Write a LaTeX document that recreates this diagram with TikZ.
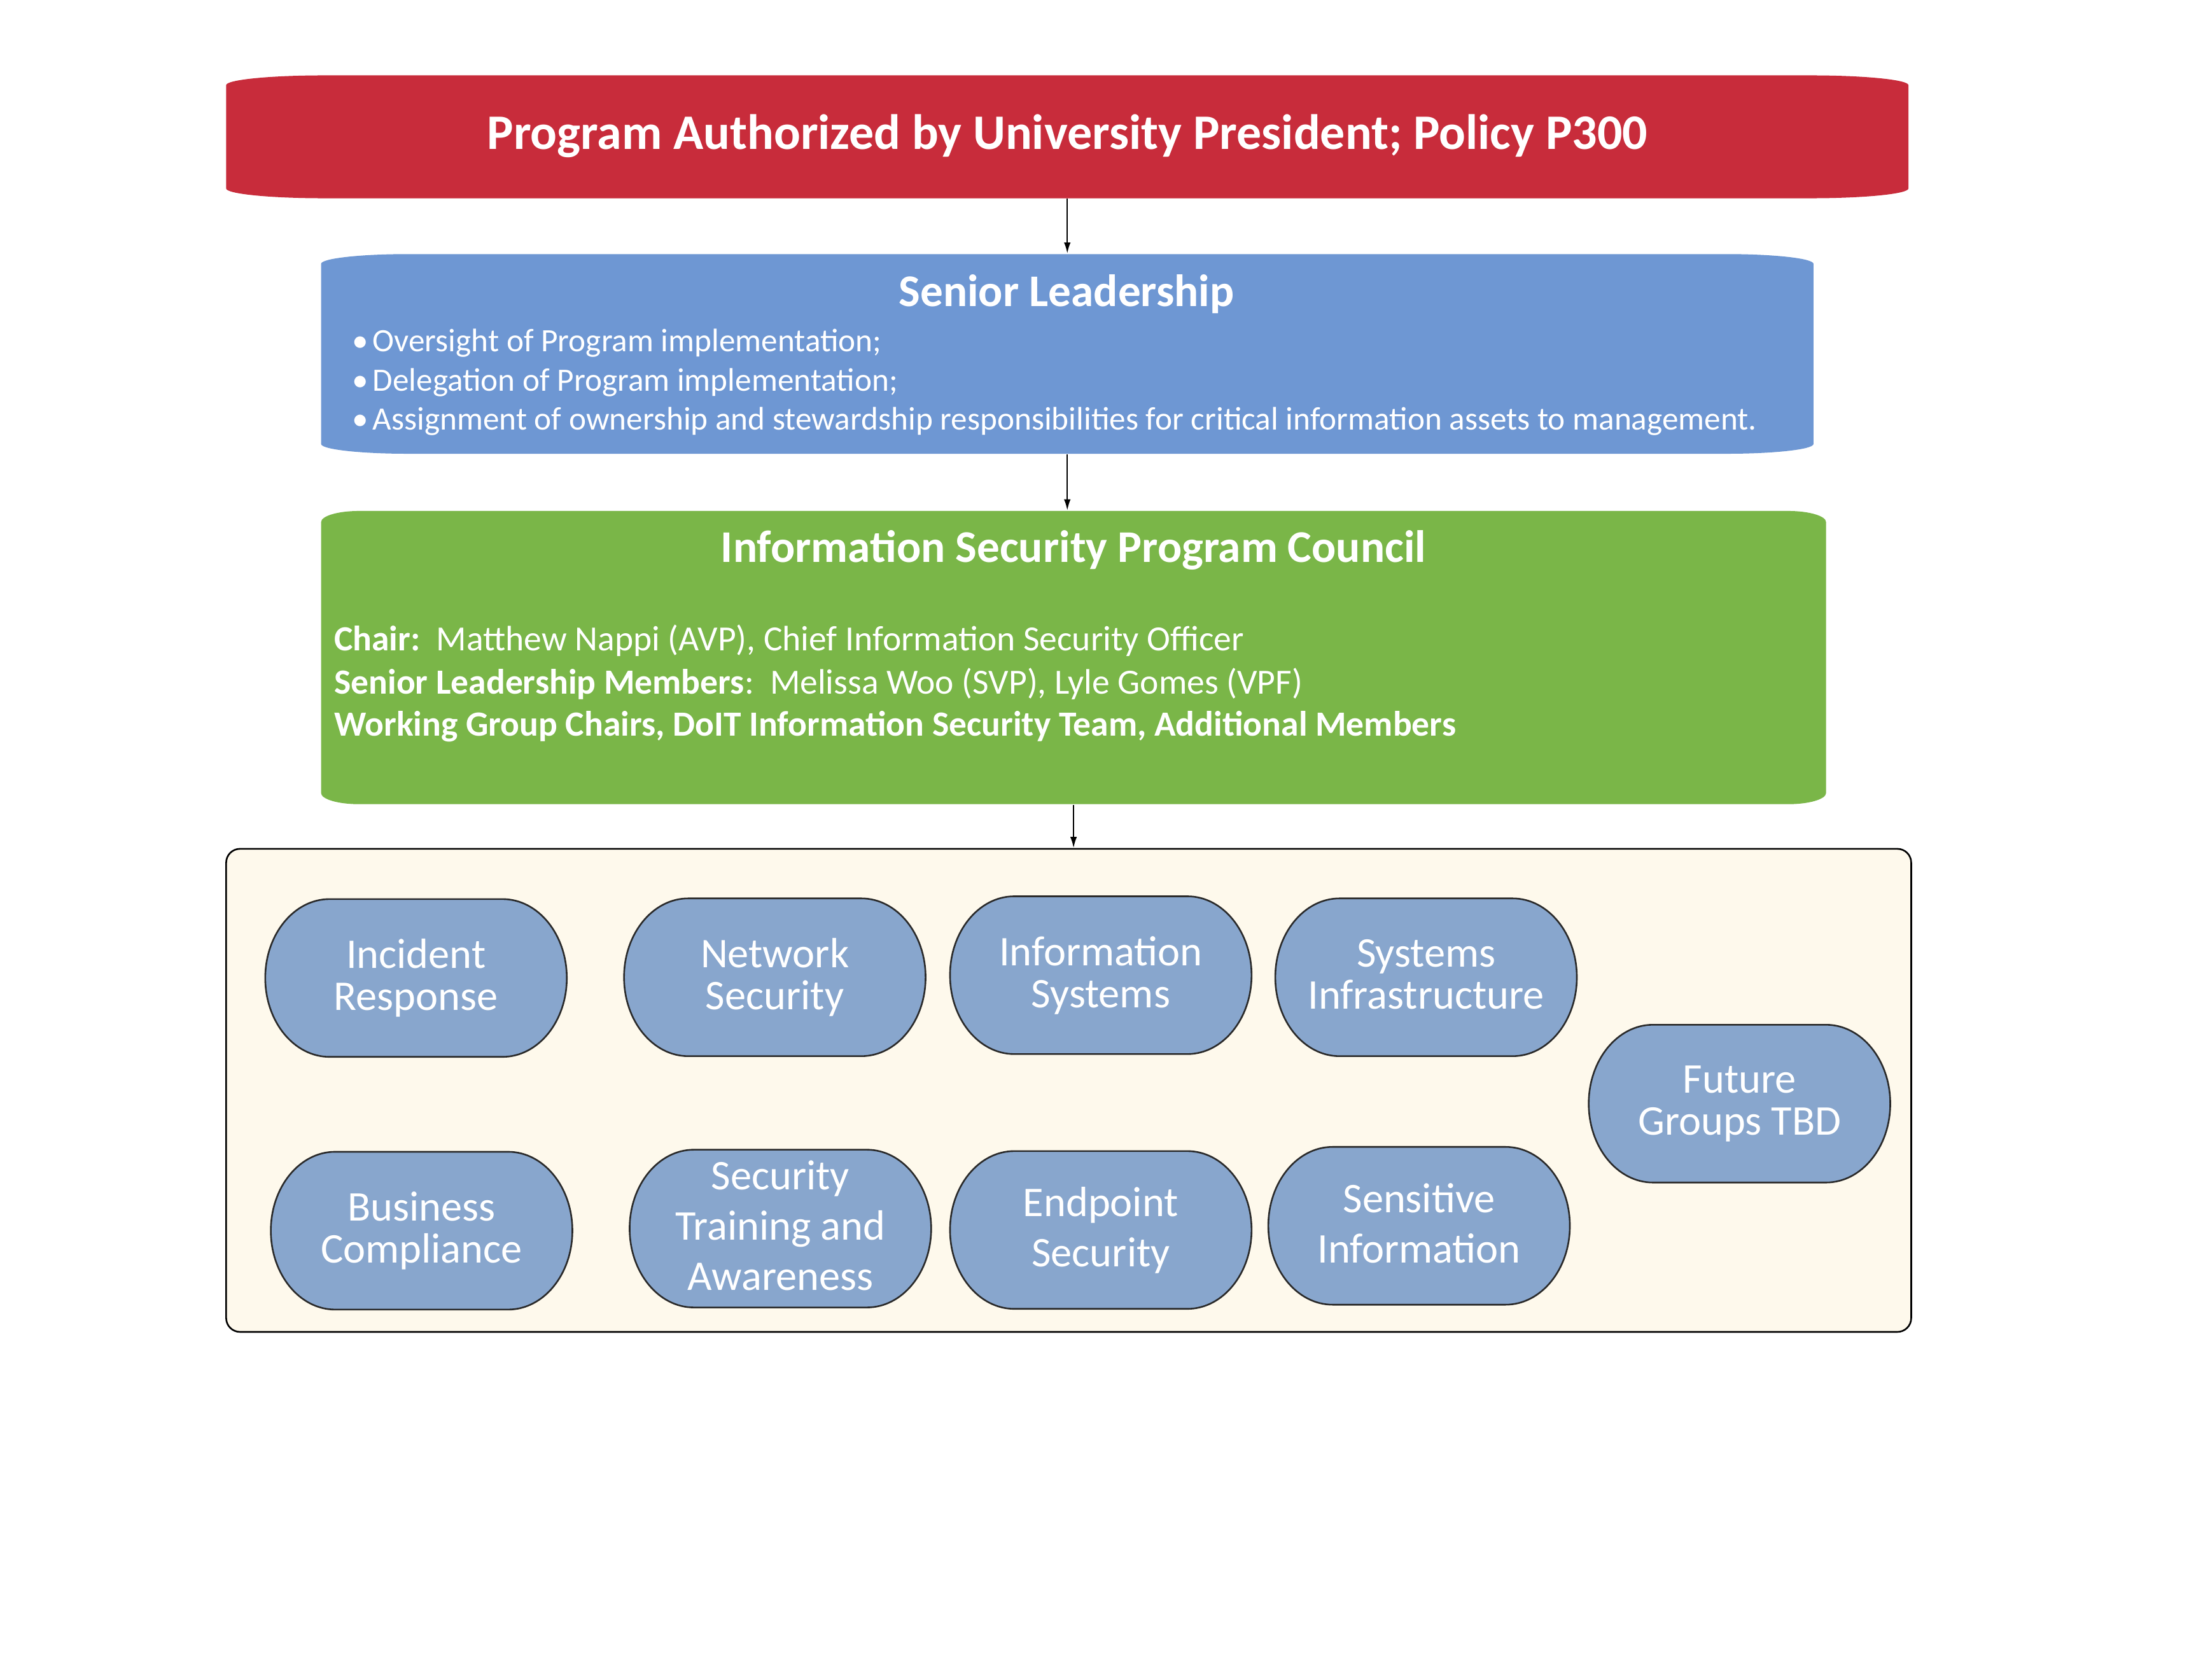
\documentclass[tikz,border=0pt]{standalone}
\usepackage{fontspec}
\setmainfont{Carlito}
\usetikzlibrary{arrows.meta,calc,fit}
\definecolor{redbox}{HTML}{C82C3B}
\definecolor{bluebox}{HTML}{6E97D3}
\definecolor{greenbox}{HTML}{7AB648}
\definecolor{cream}{HTML}{FEF9EC}
\definecolor{pillfill}{HTML}{88A6CD}
\definecolor{pillline}{HTML}{2A2A2A}
\newcommand\ebox[7]{%
 \fill[#7] ({#1+#5},{#2}) -- ({#3-#5},{#2}) arc[start angle=90,end angle=0,x radius=#5,y radius=#6]
  -- ({#3},{#4+#6}) arc[start angle=0,end angle=-90,x radius=#5,y radius=#6]
  -- ({#1+#5},{#4}) arc[start angle=270,end angle=180,x radius=#5,y radius=#6]
  -- ({#1},{#2-#6}) arc[start angle=180,end angle=90,x radius=#5,y radius=#6] -- cycle;}
% #1 name, #2 cx, #3 cy, #4 text, #5 extra style, #6 text y shift
\newcommand\mypill[6]{%
 \draw[pillshape] ({#2-62},{#3+56.5}) -- ({#2+62},{#3+56.5})
  arc[start angle=90,end angle=-90,x radius=46,y radius=56.5]
  -- ({#2-62},{#3-56.5})
  arc[start angle=270,end angle=90,x radius=46,y radius=56.5] -- cycle;
 \node[pilltext,#5] (#1) at (#2,{#3+#6}) {#4};}
\begin{document}
\begin{tikzpicture}[x=0.5051pt,y=0.5051pt,
  arr/.style={-{Latex[length=4pt,width=2.4pt]}, line width=0.5pt},
  frame/.style={inner sep=0pt},
  pillshape/.style={fill=pillfill, draw=pillline, line width=0.6pt},
  pilltext/.style={text=white, align=center, font=\fontsize{15.3}{15.2}\selectfont},
  wide/.style={font=\fontsize{15.3}{18.2}\selectfont},
  title/.style={text=white, font=\fontsize{16.4}{19}\selectfont\bfseries, anchor=base},
  body/.style={text=white, font=\fontsize{11.8}{14}\selectfont, anchor=base west, inner sep=0pt},
  cbody/.style={text=white, font=\fontsize{12.8}{15}\selectfont, anchor=base west, inner sep=0pt}]
\useasboundingbox (0,0) rectangle (1568,-1203);
\fill[white] (0,0) rectangle (1568,-1203);
% red box
\ebox{162}{-54}{1367}{-142}{70}{7}{redbox}
\node[frame, fit={(162,-54) (1367,-142)}] (auth) {};
\node[title, font=\fontsize{17.95}{21}\selectfont\bfseries] (authT) at (764.5,-107) {Program Authorized by University President; Policy P300};
% blue box
\ebox{230}{-182}{1299}{-325}{62}{7}{bluebox}
\node[frame, fit={(230,-182) (1299,-325)}] (sl) {};
\node[title] (slT) at (764,-219.5) {Senior Leadership};
\node[body] (sl1) at (252,-252) {•\hspace{1.5pt}Oversight of Program implementation;};
\node[body] (sl2) at (252,-280) {•\hspace{1.5pt}Delegation of Program implementation;};
\node[body] (sl3) at (252,-308) {•\hspace{1.5pt}Assignment of ownership and stewardship responsibilities for critical information assets to management.};
% green box
\ebox{230}{-366}{1308}{-576}{27}{8}{greenbox}
\node[frame, fit={(230,-366) (1308,-576)}] (ispc) {};
\node[title] (ispcT) at (769,-402.5) {Information Security Program Council};
\node[cbody] (c1) at (239,-466) {\textbf{Chair:}\ \ Matthew Nappi (AVP), Chief Information Security Officer};
\node[cbody] (c2) at (239,-497) {\textbf{Senior Leadership Members}:\ \ Melissa Woo (SVP), Lyle Gomes (VPF)};
\node[cbody] (c3) at (239,-527) {\textbf{Working Group Chairs, DoIT Information Security Team, Additional Members}};
% container
\node[frame, fit={(162,-608) (1369,-954)}, draw=black, fill=cream, rounded corners=5pt, line width=0.6pt] (grp) {};
% arrows
\draw[arr] (auth.south) -- (sl.north);
\draw[arr] (sl.south) -- (sl.south |- ispc.north);
\draw[arr] (ispc.south) -- (ispc.south |- grp.north);
% pills
\mypill{ir}{298}{-700.5}{Incident\\Response}{}{0}
\mypill{ns}{555}{-700}{Network\\Security}{}{0}
\mypill{is}{788.5}{-698.5}{Information\\Systems}{}{0}
\mypill{si}{1021.5}{-700}{Systems\\Infrastructure}{}{2}
\mypill{fg}{1246}{-790.5}{Future\\Groups TBD}{}{0}
\mypill{bc}{302}{-881.5}{Business\\Compliance}{}{0}
\mypill{st}{559}{-880}{Security\\Training and\\Awareness}{wide}{2}
\mypill{es}{788.5}{-881}{Endpoint\\Security}{wide}{0}
\mypill{sens}{1016.5}{-878}{Sensitive\\Information}{wide}{2}
\end{tikzpicture}
\end{document}
